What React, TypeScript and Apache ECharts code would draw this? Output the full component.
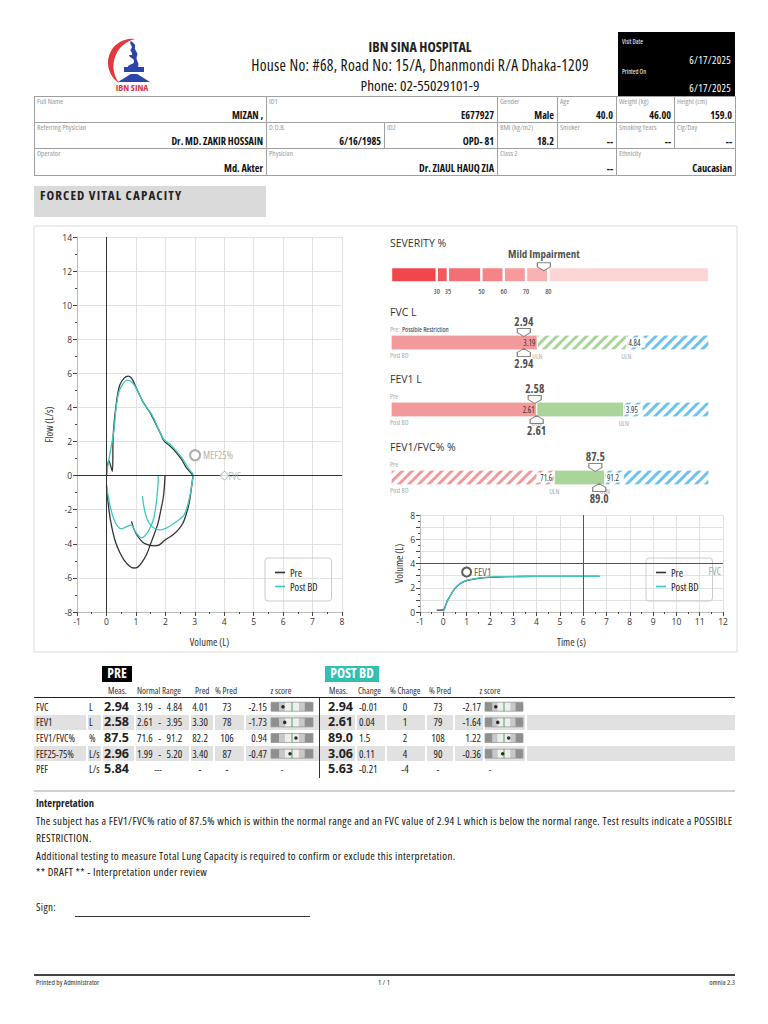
import React, { useEffect, useRef } from "react";
import * as echarts from "echarts";

const OS = '"Open Sans", sans-serif';
const OSC = '"Open Sans", xcond, sans-serif'; // condensed marker for the SVG texts (see <style>)

// ===== header / patient data =====
const hospitalName = "IBN SINA HOSPITAL";
const hospitalAddress = "House No: #68, Road No: 15/A, Dhanmondi R/A Dhaka-1209";
const hospitalPhone = "Phone: 02-55029101-9";
const visitDate = "6/17/2025";
const printedOn = "6/17/2025";

const infoRow1 = [["Full Name", "MIZAN ,"], ["ID1", "E677927"], ["Gender", "Male"], ["Age", "40.0"], ["Weight (kg)", "46.00"], ["Height (cm)", "159.0"]];
const infoRow2 = [["Referring Physician", "Dr. MD. ZAKIR HOSSAIN"], ["D.O.B.", "6/16/1985"], ["ID2", "OPD- 81"], ["BMI (kg/m2)", "18.2"], ["Smoker", "--"], ["Smoking Years", "--"], ["Cig/Day", "--"]];
const infoRow3 = [["Operator", "Md. Akter"], ["Physician", "Dr. ZIAUL HAUQ ZIA"], ["Class 2", "--"], ["Ethnicity", "Caucasian"]];

// ===== flow-volume loops (volume L, flow L/s) =====
const preExp = [[0, 0], [0.08, 0.9], [0.2, 0.25], [0.23, 2.4], [0.34, 4.3], [0.45, 5.3], [0.6, 5.72], [0.74, 5.84], [0.86, 5.7], [1.02, 5.12], [1.25, 4.3], [1.48, 3.7], [1.7, 2.95], [1.85, 2.42], [1.95, 2.05], [2.15, 1.75], [2.35, 1.4], [2.55, 0.95], [2.72, 0.45], [2.86, 0.18], [2.94, 0]];
const preInsA = [[0.85, -2.68], [0.95, -3.2], [1.08, -3.6], [1.25, -3.94], [1.45, -4.08], [1.62, -4.12], [1.78, -4.08], [1.99, -3.78], [2.25, -3.48], [2.45, -3.15], [2.6, -2.78], [2.72, -2.2], [2.81, -1.6], [2.88, -0.8], [2.94, 0]];
const preInsB = [[1.99, 0], [1.96, -0.8], [1.92, -1.4], [1.85, -2.0], [1.75, -2.8], [1.62, -3.45], [1.5, -4.0], [1.37, -4.6], [1.2, -5.1], [1.05, -5.38], [0.93, -5.42], [0.78, -5.3], [0.6, -4.95], [0.45, -4.5], [0.3, -3.85], [0.18, -3.0], [0.1, -2.2], [0.04, -1.3], [0, -0.6]];
const postExp = [[0, 0.05], [0.06, 0.7], [0.15, 1.6], [0.25, 2.6], [0.33, 4.0], [0.42, 4.9], [0.55, 5.35], [0.7, 5.6], [0.9, 5.42], [1.05, 5.0], [1.25, 4.3], [1.55, 3.55], [1.8, 2.6], [1.95, 2.12], [2.15, 1.85], [2.35, 1.5], [2.6, 0.95], [2.8, 0.4], [2.95, 0.08]];
const postInsA = [[0, -0.5], [0.05, -1.1], [0.14, -1.9], [0.25, -2.55], [0.38, -2.98], [0.5, -3.12], [0.65, -3.02], [0.85, -2.9], [0.97, -3.25], [1.08, -3.5], [1.2, -3.65], [1.35, -3.45], [1.5, -3.0], [1.62, -2.4], [1.7, -1.5], [1.75, -0.6], [1.76, 0]];
const postInsB = [[1.22, -1.2], [1.28, -1.9], [1.37, -2.5], [1.5, -2.9], [1.65, -3.1], [1.82, -3.18], [2.05, -3.06], [2.25, -2.85], [2.45, -2.6], [2.62, -2.35], [2.74, -1.85], [2.84, -1.15], [2.9, -0.5], [2.95, 0]];
const predMEF25 = [3.01, 1.2];
const predFVCPoint = [4.01, 0];

// ===== volume-time (s, L) =====
const timePre = [[-0.28, 0.15], [0, 0.17], [0.05, 0.3], [0.1, 0.55], [0.18, 0.95], [0.28, 1.28], [0.41, 1.7], [0.55, 2.05], [0.74, 2.35], [1, 2.58], [1.3, 2.72], [1.6, 2.8], [2, 2.86], [2.5, 2.9], [3, 2.92], [4, 2.93], [5, 2.94], [6.7, 2.94]];
const timePost = [[0, 0.05], [0.05, 0.25], [0.1, 0.52], [0.18, 0.93], [0.28, 1.27], [0.41, 1.72], [0.55, 2.07], [0.74, 2.38], [1, 2.61], [1.3, 2.74], [1.6, 2.81], [2, 2.87], [2.5, 2.91], [3, 2.93], [4, 2.94], [5, 2.94], [6.7, 2.94]];
const predFEV1Point = [1, 3.3];
const predFVCLevel = 4;
const atsTime = 6;

// ===== severity =====
const sevBounds = [9.5, 30, 35, 50, 60, 70, 80, 152];
const sevTicks = [30, 35, 50, 60, 70, 80];
const sevColors = ["#f1464c", "#f35a5f", "#f46f73", "#f58487", "#f79a9c", "#f9b1b2", "#fcd5d5"];
const sevValue = 78;
const sevText = "Mild Impairment";

// ===== LLN/ULN bars =====
const barParams = ["FVC", "FEV1", "FEV1/FVC%"];
const barUnits = ["L", "L", "%"];
const barLLN = [3.19, 2.61, 71.6];
const barULN = [4.84, 3.95, 91.2];
const barPre = [2.94, 2.58, 87.5];
const barPost = [2.94, 2.61, 89.0];
const barMin = [0.48, 0.37, 8.4];
const barMax = [6.37, 5.26, 131.5];
const barDecimals = [2, 2, 1];
const barSolid = [[true, false, false], [true, true, false], [false, true, false]];
const barPreNote = ["Possible Restriction", "", ""];

// ===== results table =====
const paramNames = ["FVC", "FEV1", "FEV1/FVC%", "FEF25-75%", "PEF"];
const paramUnits = ["L", "L", "%", "L/s", "L/s"];
const preMeas = ["2.94", "2.58", "87.5", "2.96", "5.84"];
const normalRange = ["3.19 - 4.84", "2.61 - 3.95", "71.6 - 91.2", "1.99 - 5.20", "---"];
const predVals = ["4.01", "3.30", "82.2", "3.40", "-"];
const prePctPred = ["73", "78", "106", "87", "-"];
const preZ = [-2.15, -1.73, 0.94, -0.47, null];
const postMeas = ["2.94", "2.61", "89.0", "3.06", "5.63"];
const postChange = ["-0.01", "0.04", "1.5", "0.11", "-0.21"];
const postPctChange = ["0", "1", "2", "4", "-4"];
const postPctPred = ["73", "79", "108", "90", "-"];
const postZ = [-2.17, -1.64, 1.22, -0.36, null];
const zZoneBounds = [-5, -3, -1.645, 1.645, 3, 5];
const zZoneColors = ["#8f8f8f", "#c8c8c8", "#eeeeee", "#c8c8c8", "#8f8f8f"];

const interpretation = [
  "The subject has a FEV1/FVC% ratio of 87.5% which is within the normal range and an FVC value of 2.94 L which is below the normal range. Test results indicate a POSSIBLE",
  "RESTRICTION.",
  "Additional testing to measure Total Lung Capacity is required to confirm or exclude this interpretation.",
  "** DRAFT ** - Interpretation under review",
];

const PRE_COLOR = "#333333";
const POST_COLOR = "#3ec8bf";
const downSym = "path://M0,0L14,0L14,5L7,10L0,5Z";
const upSym = "path://M7,0L14,5L14,10L0,10L0,5Z";

function buildOption(): any {
  const grid: any[] = [];
  const xAxis: any[] = [];
  const yAxis: any[] = [];
  const series: any[] = [];
  const graphic: any[] = [];
  const lbl = { fontFamily: OS, fontSize: 8.5, color: "#333" };
  const split = { show: true, lineStyle: { color: "#e2e2e2", width: 1 } };
  const tick = { show: true, length: 4, lineStyle: { color: "#444" } };
  const minor = { show: true, splitNumber: 2, length: 2, lineStyle: { color: "#444" } };
  const aline = { show: true, onZero: false, lineStyle: { color: "#bbb" } };
  const nameStyle = { fontFamily: OSC, fontSize: 10.5, color: "#333" };
  const line = (name: string, data: number[][], color: string, gi: number) => ({
    type: "line", name, xAxisIndex: gi, yAxisIndex: gi, data, symbol: "none", showSymbol: false,
    smooth: 0.3, lineStyle: { color, width: 1.3 }, itemStyle: { color }, z: 4, silent: true,
  });

  // ---- grid 0 : flow / volume
  grid.push({ left: 77, top: 237, width: 265, height: 375 });
  xAxis.push({ gridIndex: 0, type: "value", min: -1, max: 8, interval: 1, name: "Volume (L)", nameLocation: "middle", nameGap: 24, nameTextStyle: nameStyle, axisLine: aline, axisTick: tick, minorTick: minor, axisLabel: { ...lbl, margin: 5 }, splitLine: split });
  yAxis.push({ gridIndex: 0, type: "value", min: -8, max: 14, interval: 2, name: "Flow (L/s)", nameLocation: "middle", nameGap: 23, nameTextStyle: nameStyle, axisLine: aline, axisTick: tick, minorTick: minor, axisLabel: { ...lbl, margin: 5 }, splitLine: split });
  series.push({
    type: "line", xAxisIndex: 0, yAxisIndex: 0, data: [[0, 0]], symbol: "none", lineStyle: { width: 0 }, silent: true, z: 2,
    markLine: { silent: true, symbol: ["none", "none"], label: { show: false }, lineStyle: { color: "#333", width: 1, type: "solid" }, data: [{ xAxis: 0 }, { yAxis: 0 }] },
  });
  series.push(line("Pre", preExp, PRE_COLOR, 0));
  series.push(line("Pre", preInsA, PRE_COLOR, 0));
  series.push(line("Pre", preInsB, PRE_COLOR, 0));
  series.push(line("Post BD", postExp, POST_COLOR, 0));
  series.push(line("Post BD", postInsA, POST_COLOR, 0));
  series.push(line("Post BD", postInsB, POST_COLOR, 0));
  series.push({
    type: "scatter", xAxisIndex: 0, yAxisIndex: 0, data: [predMEF25], symbol: "emptyCircle", symbolSize: 10, silent: true, z: 5,
    itemStyle: { color: "#9a9a9a", borderWidth: 1.2 },
    label: { show: true, position: "right", distance: 2, formatter: "MEF25%", fontFamily: OSC, fontSize: 10, color: "#9a9a9a" },
  });
  series.push({
    type: "scatter", xAxisIndex: 0, yAxisIndex: 0, data: [predFVCPoint], symbol: "diamond", symbolSize: 9, silent: true, z: 5,
    itemStyle: { color: "#fff", borderColor: "#999", borderWidth: 1 },
    label: { show: true, position: "right", distance: -1, formatter: "FVC", fontFamily: OSC, fontSize: 10, color: "#aaa" },
  });

  // ---- grid 1 : volume / time
  grid.push({ left: 420, top: 515, width: 303, height: 97 });
  xAxis.push({ gridIndex: 1, type: "value", min: -1, max: 12, interval: 1, name: "Time (s)", nameLocation: "middle", nameGap: 24, nameTextStyle: nameStyle, axisLine: aline, axisTick: tick, minorTick: minor, axisLabel: { ...lbl, margin: 5 }, splitLine: split });
  yAxis.push({ gridIndex: 1, type: "value", min: 0, max: 8, interval: 1, name: "Volume (L)", nameLocation: "middle", nameGap: 16, nameTextStyle: nameStyle, axisLine: aline, axisTick: tick, minorTick: minor, axisLabel: { ...lbl, margin: 5, formatter: (v: number) => (v % 2 === 0 ? String(v) : "") }, splitLine: split });
  series.push({
    type: "line", xAxisIndex: 1, yAxisIndex: 1, data: [[0, 0]], symbol: "none", lineStyle: { width: 0 }, silent: true, z: 2,
    markLine: {
      silent: true, symbol: ["none", "none"], lineStyle: { color: "#555", width: 1, type: "solid" },
      data: [
        { yAxis: predFVCLevel, label: { show: true, position: "insideEndBottom", formatter: "FVC", fontFamily: OSC, fontSize: 10, color: "#aaa", distance: 2 } },
        { xAxis: atsTime, label: { show: false } },
      ],
    },
  });
  series.push(line("Pre", timePre, PRE_COLOR, 1));
  series.push(line("Post BD", timePost, POST_COLOR, 1));
  series.push({
    type: "scatter", xAxisIndex: 1, yAxisIndex: 1, data: [predFEV1Point], symbol: "emptyCircle", symbolSize: 9, silent: true, z: 5,
    itemStyle: { color: "#333", borderWidth: 1.2 },
    label: { show: true, position: "right", distance: 2, formatter: "FEV1", fontFamily: OSC, fontSize: 10.5, color: "#333" },
  });
  series.push({
    type: "scatter", xAxisIndex: 1, yAxisIndex: 1, data: [[atsTime, 0]], symbol: "none", silent: true, z: 5,
    label: { show: true, position: "top", distance: 0, formatter: "ATS", fontFamily: OSC, fontSize: 6, color: "#aaa" },
  });

  // ---- grid 2 : severity
  grid.push({ left: 391, top: 267, width: 318, height: 15.5 });
  xAxis.push({ gridIndex: 2, type: "value", min: sevBounds[0], max: sevBounds[sevBounds.length - 1], axisLine: { show: false }, axisTick: { show: false }, splitLine: { show: false }, axisLabel: { show: true, customValues: sevTicks, fontFamily: OSC, fontSize: 7.5, color: "#333", margin: 4 } });
  yAxis.push({ gridIndex: 2, type: "category", data: ["Severity"], show: false });
  series.push({ type: "bar", stack: "sev", xAxisIndex: 2, yAxisIndex: 2, data: [sevBounds[0]], barWidth: 15.5, itemStyle: { color: "rgba(0,0,0,0)" }, silent: true });
  for (let k = 0; k < sevBounds.length - 1; k++) {
    series.push({ type: "bar", stack: "sev", xAxisIndex: 2, yAxisIndex: 2, data: [sevBounds[k + 1] - sevBounds[k]], barWidth: 15.5, silent: true, itemStyle: { color: sevColors[k], borderColor: "#fff", borderWidth: 1.2 } });
  }
  series.push({
    type: "scatter", xAxisIndex: 2, yAxisIndex: 2, data: [[sevValue, 0]], symbol: downSym, symbolSize: [13, 8], symbolOffset: [0, -8], silent: true, z: 6,
    itemStyle: { color: "#fff", borderColor: "#666", borderWidth: 1 },
    label: { show: true, position: "top", distance: 3, formatter: sevText, fontFamily: OSC, fontSize: 11, fontWeight: "bold", color: "#222" },
  });
  graphic.push({ type: "text", x: 390, y: 243, silent: true, style: { text: "SEVERITY %", fontFamily: OS, fontSize: 10.5, fill: "#333", verticalAlign: "middle" } });

  // ---- grids 3-5 : LLN / ULN bars
  const barTops = [335, 402, 470];
  const segColors = ["#f29a9b", "#a9d59b", "#6cc3ee"];
  barParams.forEach((p, i) => {
    const gi = 3 + i;
    const top = barTops[i];
    const fmt = (v: number) => v.toFixed(barDecimals[i]);
    grid.push({ left: 391, top, width: 318, height: 15 });
    xAxis.push({
      gridIndex: gi, type: "value", min: barMin[i], max: barMax[i], axisLine: { show: false }, axisTick: { show: false }, splitLine: { show: false },
      axisLabel: { show: true, customValues: [barLLN[i], barULN[i]], formatter: (_v: number, idx: number) => (idx === 0 ? "LLN" : "ULN"), fontFamily: OSC, fontSize: 7, color: "#aaa", margin: 3 },
    });
    yAxis.push({ gridIndex: gi, type: "category", data: [p], show: false });
    const bounds = [barMin[i], barLLN[i], barULN[i], barMax[i]];
    series.push({ type: "bar", stack: "b" + i, xAxisIndex: gi, yAxisIndex: gi, data: [barMin[i]], barWidth: 15, itemStyle: { color: "rgba(0,0,0,0)" }, silent: true });
    for (let k = 0; k < 3; k++) {
      const solid = barSolid[i][k];
      const itemStyle: any = solid
        ? { color: segColors[k], borderColor: "#fff", borderWidth: 0.6 }
        : { color: "#fff", borderColor: "#fff", borderWidth: 0.6, decal: { symbol: "rect", symbolSize: 1, color: segColors[k], dashArrayX: [1, 0], dashArrayY: [2.5, 3.5], rotation: -Math.PI / 4 } };
      let label: any = { show: false };
      if (k === 0) label = { show: true, position: "insideRight", distance: 2, formatter: fmt(barLLN[i]), fontFamily: OSC, fontSize: 8, color: "#333", backgroundColor: solid ? "transparent" : "#fff", padding: [1, 0] };
      if (k === 2) label = { show: true, position: "insideLeft", distance: 1, formatter: fmt(barULN[i]), fontFamily: OSC, fontSize: 8, color: "#333", backgroundColor: "#fff", padding: [1, 1] };
      series.push({ type: "bar", stack: "b" + i, xAxisIndex: gi, yAxisIndex: gi, data: [bounds[k + 1] - bounds[k]], barWidth: 15, silent: true, itemStyle, label });
    }
    series.push({
      type: "scatter", xAxisIndex: gi, yAxisIndex: gi, data: [[barPre[i], 0]], symbol: downSym, symbolSize: [13, 8], symbolOffset: [0, -10], silent: true, z: 6,
      itemStyle: { color: "#fff", borderColor: "#666", borderWidth: 1 },
      label: { show: true, position: "top", distance: 1, formatter: fmt(barPre[i]), fontFamily: OSC, fontSize: 11.5, fontWeight: "bold", color: "#222" },
    });
    series.push({
      type: "scatter", xAxisIndex: gi, yAxisIndex: gi, data: [[barPost[i], 0]], symbol: upSym, symbolSize: [13, 8], symbolOffset: [0, 10], silent: true, z: 6,
      itemStyle: { color: "#fff", borderColor: "#666", borderWidth: 1 },
      label: { show: true, position: "bottom", distance: 1, formatter: fmt(barPost[i]), fontFamily: OSC, fontSize: 11.5, fontWeight: "bold", color: "#222" },
    });
    graphic.push({ type: "text", x: 390, y: top - 23, silent: true, style: { text: p + " " + barUnits[i], fontFamily: OS, fontSize: 10.5, fill: "#333", verticalAlign: "middle" } });
    graphic.push({ type: "text", x: 390, y: top - 6, silent: true, style: { text: barPreNote[i] ? "Pre:" : "Pre", fontFamily: OSC, fontSize: 7, fill: "#aaa", verticalAlign: "middle" } });
    if (barPreNote[i]) graphic.push({ type: "text", x: 402, y: top - 6, silent: true, style: { text: barPreNote[i], fontFamily: OSC, fontSize: 7, fill: "#333", verticalAlign: "middle" } });
    graphic.push({ type: "text", x: 390, y: top + 20, silent: true, style: { text: "Post BD", fontFamily: OSC, fontSize: 7, fill: "#aaa", verticalAlign: "middle" } });
  });

  // ---- grids 6-7 : z-score gauges in the table
  const zRows = paramNames.slice(0, 4);
  [[271, 42, preZ], [485, 38, postZ]].forEach((cfg: any, k) => {
    const gi = 6 + k;
    grid.push({ left: cfg[0], top: 698.9, width: cfg[1], height: 62.6 });
    xAxis.push({ gridIndex: gi, type: "value", min: zZoneBounds[0], max: zZoneBounds[zZoneBounds.length - 1], show: false });
    yAxis.push({ gridIndex: gi, type: "category", data: zRows, inverse: true, show: false });
    const zoneData: number[][] = [];
    zRows.forEach((_r, ri) => {
      for (let z = 0; z < zZoneBounds.length - 1; z++) zoneData.push([zZoneBounds[z], zZoneBounds[z + 1], ri, z]);
      zoneData.push([zZoneBounds[0], zZoneBounds[zZoneBounds.length - 1], ri, -1]);
    });
    series.push({
      type: "custom", xAxisIndex: gi, yAxisIndex: gi, data: zoneData, silent: true, encode: { x: [0, 1], y: 2 },
      renderItem: (_p: any, api: any) => {
        const s = api.coord([api.value(0), api.value(2)]);
        const e = api.coord([api.value(1), api.value(2)]);
        const zi = api.value(3);
        const shape = { x: s[0], y: s[1] - 4.5, width: e[0] - s[0], height: 9 };
        if (zi < 0) return { type: "rect", shape, style: { fill: "none", stroke: "#9a9a9a", lineWidth: 0.8 } };
        return { type: "rect", shape, style: { fill: zZoneColors[zi] } };
      },
    });
    series.push({ type: "scatter", xAxisIndex: gi, yAxisIndex: gi, data: zRows.map((_r, ri) => [0, ri]), symbol: "rect", symbolSize: [1, 9], itemStyle: { color: "#1a9a2a" }, silent: true, z: 5 });
    series.push({ type: "scatter", xAxisIndex: gi, yAxisIndex: gi, data: (cfg[2] as any[]).slice(0, 4).map((z, ri) => [z, ri]), symbol: "circle", symbolSize: 3.5, itemStyle: { color: "#000" }, silent: true, z: 6 });
  });

  graphic.push({ type: "rect", silent: true, z: -10, shape: { x: 34, y: 226, width: 703, height: 426 }, style: { fill: "none", stroke: "#dcdcdc", lineWidth: 1 } });

  const legendBase = {
    data: ["Pre", "Post BD"], orient: "vertical", icon: "rect", itemWidth: 10, itemHeight: 1.6, itemGap: 3,
    padding: [9, 3, 9, 10], borderColor: "#ccc", borderWidth: 1, borderRadius: 3, selectedMode: false,
    textStyle: { fontFamily: OSC, fontSize: 10.5, color: "#222" },
  };

  return {
    animation: false,
    textStyle: { fontFamily: OSC },
    grid, xAxis, yAxis, series, graphic,
    legend: [{ ...legendBase, left: 265, top: 558 }, { ...legendBase, left: 646, top: 558 }],
  };
}

const Txt = ({ x, y, t, s = 10, b = false, a = "l", c = "#222", w = 400, st = "75%", ls = 0, ws = 0 }: any) => (
  <div style={{ position: "absolute", left: x, top: y, fontSize: s, fontWeight: b ? 700 : w, fontStretch: st, letterSpacing: ls, wordSpacing: ws, color: c, whiteSpace: "nowrap", lineHeight: 1, fontFamily: OS, transform: `translate(${a === "l" ? 0 : a === "r" ? -100 : -50}%, -50%)` }}>{t}</div>
);

const Box = ({ x, y, w, h, bg, border }: any) => (
  <div style={{ position: "absolute", left: x, top: y, width: w, height: h, background: bg || "transparent", border: border || "none", boxSizing: "border-box" }} />
);

function InfoRow({ cells, cols, y0, y1 }: any) {
  return (
    <>
      {cells.map((c: string[], i: number) => (
        <React.Fragment key={c[0]}>
          <Box x={cols[i]} y={y0} w={cols[i + 1] - cols[i] + 1} h={y1 - y0 + 1} border="1px solid #a0a0a0" />
          <Txt x={cols[i] + 3} y={y0 + 5.5} t={c[0]} s={7.5} c="#9a9a9a" />
          <Txt x={cols[i + 1] - 3} y={y1 - 7} t={c[1]} s={10.2} b a="r" c="#111" />
        </React.Fragment>
      ))}
    </>
  );
}

function Logo() {
  return (
    <svg style={{ position: "absolute", left: 98, top: 36 }} width={66} height={60} viewBox="0 0 66 60">
      <path d="M37,3 A24,24 0 0,0 21,47 A28,28 0 0,1 37,3 Z" fill="#e0393f" />
      <path d="M33,5 C30,8 36,10 33,13 C31,15 35,16 34,19 L31,19 C31,22 37,22 36,26 C35,29 30,28 30,31 L40,31 C42,26 37,24 39,20 C41,17 36,14 37,11 C38,8 35,7 33,5 Z" fill="#2b46a8" />
      <rect x={26} y={31} width={20} height={5} fill="#2b46a8" />
      <path d="M20,46 L36,36 L52,46 Z" fill="#2b46a8" />
      <rect x={28} y={36} width={16} height={2} fill="#fff" />
      <text x={34} y={55} textAnchor="middle" fontFamily={OS} fontWeight={700} fontSize={9.5} fill="#e0393f" style={{ fontStretch: "75%" }}>IBN SINA</text>
    </svg>
  );
}

export default function App() {
  const ref = useRef<HTMLDivElement>(null);
  useEffect(() => {
    const chart = echarts.init(ref.current as HTMLDivElement, null, { renderer: "svg" });
    chart.setOption(buildOption());
    return () => chart.dispose();
  }, []);

  const rowY = [706.7, 722.3, 738, 753.7, 769.3];
  const preSeps = [86, 101, 134, 189, 213, 244];
  const postSeps = [355, 385, 425, 453, 483, 525];
  const num = 10.5;

  return (
    <div style={{ position: "absolute", left: 0, top: 0, width: 768, height: 1024, background: "#fff", overflow: "hidden", fontFamily: OS }}>
      <style>{`svg text[style*="xcond"], svg text[font-family*="xcond"], svg tspan[style*="xcond"] { font-stretch: 75% !important; }`}</style>
      <Logo />
      <Txt x={420} y={47} t={hospitalName} s={14} b a="c" />
      <Txt x={420} y={66} t={hospitalAddress} s={15.5} w={500} a="c" ls={0.3} c="#111" />
      <Txt x={420} y={86} t={hospitalPhone} s={15.2} w={500} a="c" c="#111" />
      <Box x={618} y={32} w={117} h={64} bg="#000" />
      <Txt x={622} y={42} t="Visit Date" s={6.5} c="#fff" />
      <Txt x={731} y={60} t={visitDate} s={10.5} c="#fff" a="r" ls={0.3} />
      <Txt x={622} y={72} t="Printed On" s={6.5} c="#fff" />
      <Txt x={731} y={88} t={printedOn} s={10.5} c="#fff" a="r" ls={0.3} />

      <InfoRow cells={infoRow1} cols={[34, 266, 497, 557, 616, 674, 735]} y0={96} y1={122} />
      <InfoRow cells={infoRow2} cols={[34, 266, 384, 497, 557, 616, 674, 735]} y0={122} y1={148} />
      <InfoRow cells={infoRow3} cols={[34, 266, 497, 616, 735]} y0={148} y1={175} />

      <Box x={34} y={186} w={232} h={31} bg="#dadada" />
      <Txt x={40} y={195} t="FORCED VITAL CAPACITY" s={13} b c="#222" ls={1.1} />

      {/* results table */}
      <Box x={102} y={666} w={30} h={16} bg="#000" />
      <Txt x={117} y={674} t="PRE" s={13.5} b c="#fff" a="c" />
      <Box x={325} y={666} w={54} h={16} bg="#2fc0b2" />
      <Txt x={352} y={674} t="POST BD" s={13.5} b c="#fff" a="c" />
      {[["Meas.", 108, "l"], ["Normal Range", 137, "l"], ["Pred", 195, "l"], ["% Pred", 215, "l"], ["z score", 281, "c"], ["Meas.", 329, "l"], ["Change", 358, "l"], ["% Change", 390, "l"], ["% Pred", 429, "l"], ["z score", 490, "c"]].map((h: any, i) => (
        <Txt key={i} x={h[1]} y={690} t={h[0]} s={9} a={h[2]} c="#333" />
      ))}
      <Box x={34} y={696.5} w={701} h={1.3} bg="#222" />
      {[1, 3].map((r) => (
        <React.Fragment key={r}>
          <Box x={34} y={rowY[r] - 7.8} w={701} h={15.6} bg="#e1e1e1" />
          {[...preSeps, ...postSeps].map((sx) => <Box key={sx} x={sx} y={rowY[r] - 7.8} w={1.5} h={15.6} bg="#fff" />)}
        </React.Fragment>
      ))}
      <Box x={318.5} y={698} w={1.5} h={80} bg="#333" />
      {paramNames.map((n, i) => {
        const y = rowY[i];
        const pz = preZ[i];
        const qz = postZ[i];
        return (
          <React.Fragment key={n}>
            <Txt x={36} y={y} t={n} s={10} />
            <Txt x={89} y={y} t={paramUnits[i]} s={10} />
            <Txt x={104} y={y} t={preMeas[i]} s={12.5} b st="100%" />
            {normalRange[i] === "---" ? <Txt x={158} y={y} t="---" s={9} a="c" /> : <Txt x={137} y={y} t={normalRange[i]} s={num} ws={3.5} />}
            <Txt x={200} y={y} t={predVals[i]} s={num} a="c" />
            <Txt x={227} y={y} t={prePctPred[i]} s={num} a="c" />
            {pz === null ? <Txt x={282} y={y} t="-" s={9} a="c" /> : <Txt x={267} y={y} t={pz.toFixed(2)} s={num} a="r" />}
            <Txt x={328} y={y} t={postMeas[i]} s={12.5} b st="100%" />
            <Txt x={359} y={y} t={postChange[i]} s={num} />
            <Txt x={405} y={y} t={postPctChange[i]} s={num} a="c" />
            <Txt x={438} y={y} t={postPctPred[i]} s={num} a="c" />
            {qz === null ? <Txt x={490} y={y} t="-" s={9} a="c" /> : <Txt x={481} y={y} t={qz.toFixed(2)} s={num} a="r" />}
          </React.Fragment>
        );
      })}

      {/* interpretation */}
      <Box x={34} y={790} w={701} h={1.5} bg="#d0d0d0" />
      <Txt x={36} y={803} t="Interpretation" s={10.5} b />
      {interpretation.map((l, i) => (
        <Txt key={i} x={36} y={[820, 837, 855, 871][i]} t={l} s={11} ls={0.34} c="#111" />
      ))}
      <Txt x={36} y={906} t="Sign:" s={11} ls={0.34} />
      <Box x={75} y={915.5} w={235} h={1.2} bg="#333" />

      {/* footer */}
      <Box x={34} y={974} w={701} h={1.5} bg="#444" />
      <Txt x={36} y={983} t="Printed by Administrator" s={7.5} c="#333" />
      <Txt x={384} y={983} t="1 / 1" s={7.5} c="#333" a="c" />
      <Txt x={735} y={983} t="omnia 2.3" s={7.5} c="#333" a="r" />

      <div ref={ref} style={{ position: "absolute", left: 0, top: 0, width: 768, height: 1024, zIndex: 2, pointerEvents: "none" }} />
    </div>
  );
}
